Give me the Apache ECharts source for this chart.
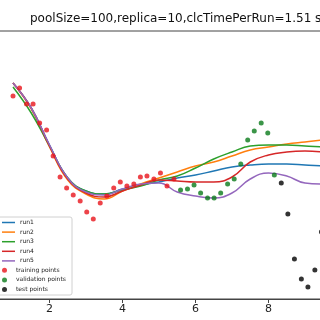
<!DOCTYPE html>
<html>
<head>
<meta charset="utf-8">
<script src="https://cdn.jsdelivr.net/npm/echarts@6/dist/echarts.min.js"></script>
<style>
  html, body { margin: 0; padding: 0; background: #fff; }
  #chart { width: 320px; height: 320px; }
</style>
</head>
<body>
<div id="chart"></div>
<script>
/* ================================
   DATA
================================ */
const titleText = "poolSize=100,replica=10,clcTimePerRun=1.51 s";

const runNames = ["run1", "run2", "run3", "run4", "run5"];
const runColors = ["#1f77b4", "#ff7f0e", "#2ca02c", "#d62728", "#9467bd"];

const curveX = [1, 1.5, 2, 2.5, 3, 3.5, 4, 4.5, 5, 5.5, 6, 6.5, 7, 7.5, 8, 8.5, 9, 9.5];
const run1 = [2.16, 1.91, 1.54, 1.21, 1.08, 1.05, 1.10, 1.14, 1.17, 1.21, 1.24, 1.28, 1.32, 1.34, 1.35, 1.35, 1.34, 1.33];
const run2 = [2.16, 1.90, 1.52, 1.19, 1.05, 1.00, 1.08, 1.15, 1.21, 1.27, 1.33, 1.37, 1.43, 1.49, 1.52, 1.55, 1.57, 1.59];
const run3 = [2.12, 1.86, 1.53, 1.21, 1.08, 1.05, 1.09, 1.13, 1.19, 1.23, 1.31, 1.40, 1.47, 1.53, 1.54, 1.54, 1.53, 1.52];
const run4 = [2.16, 1.91, 1.53, 1.20, 1.06, 1.02, 1.08, 1.14, 1.19, 1.18, 1.17, 1.17, 1.22, 1.37, 1.44, 1.47, 1.48, 1.47];
const run5 = [2.16, 1.91, 1.54, 1.21, 1.07, 1.04, 1.10, 1.15, 1.16, 1.07, 1.03, 1.01, 1.06, 1.20, 1.26, 1.23, 1.16, 1.15];

const trainX = [1.00, 1.18, 1.37, 1.55, 1.73, 1.92, 2.10, 2.29, 2.47, 2.65, 2.84, 3.02, 3.20,
                3.39, 3.57, 3.76, 3.94, 4.12, 4.31, 4.49, 4.67, 4.86, 5.04, 5.22, 5.41];
const trainY = [2.03, 2.11, 1.95, 1.95, 1.76, 1.69, 1.43, 1.22, 1.11, 1.04, 0.98, 0.87, 0.80,
                0.96, 1.03, 1.11, 1.17, 1.13, 1.15, 1.22, 1.23, 1.20, 1.26, 1.13, 1.20];

const validX = [5.59, 5.78, 5.96, 6.14, 6.33, 6.51, 6.69, 6.88, 7.06, 7.24, 7.43, 7.61, 7.80, 7.98, 8.16];
const validY = [1.09, 1.10, 1.14, 1.06, 1.01, 1.01, 1.06, 1.15, 1.20, 1.35, 1.59, 1.68, 1.76, 1.66, 1.24];

const testX = [8.35, 8.53, 8.71, 8.90, 9.08, 9.27, 9.45];
const testY = [1.16, 0.85, 0.40, 0.20, 0.12, 0.29, 0.67];

/* ================================
   HELPERS
================================ */
const FONT = "DejaVu Sans";
const zip = (xs, ys) => xs.map((x, i) => [x, ys[i]]);
const runs = [run1, run2, run3, run4, run5];

const lineSeries = runs.map((vals, i) => ({
  name: runNames[i],
  type: "line",
  data: zip(curveX, vals),
  smooth: 0.45,
  symbol: "none",
  lineStyle: { width: 1.5, color: runColors[i] },
  itemStyle: { color: runColors[i] },
  z: 2
}));

const scatter = (name, xs, ys, color) => ({
  name: name,
  type: "scatter",
  data: zip(xs, ys),
  symbolSize: 5,
  itemStyle: { color: color },
  z: 3
});

/* ================================
   CHART
================================ */
const chart = echarts.init(document.getElementById("chart"), null, { renderer: "canvas" });

chart.setOption({
  animation: false,
  textStyle: { fontFamily: FONT },
  title: {
    text: titleText,
    left: 30,
    top: 13,
    padding: 0,
    textStyle: { fontFamily: FONT, fontSize: 12, fontWeight: "normal", color: "#111" }
  },
  // the picture is cropped: x=0 and x=10 fall outside the canvas
  grid: {
    left: -23.5,
    right: -21.5,
    top: 31,
    bottom: 21,
    outerBoundsMode: "none",
    containLabel: false,
    show: true,
    borderColor: "#444",
    borderWidth: 1,
    backgroundColor: "transparent"
  },
  graphic: [{
    type: "rect",
    shape: { x: -3, y: 217, width: 75, height: 78, r: 2 },
    style: { fill: "rgba(255,255,255,0.8)", stroke: "#d0d0d0", lineWidth: 1 },
    z: 10
  }],
  legend: [
    {
      data: runNames,
      orient: "vertical",
      left: 2,
      top: 218,
      padding: 0,
      itemGap: 0.6,
      itemWidth: 13,
      itemHeight: 1.5,
      icon: "rect",
      z: 11,
      textStyle: { fontFamily: FONT, fontSize: 6, color: "#222", lineHeight: 9 }
    },
    {
      data: ["training points", "validation points", "test points"],
      orient: "vertical",
      left: 2,
      top: 265.8,
      padding: 0,
      itemGap: 0.6,
      itemWidth: 13,
      itemHeight: 5,
      icon: "circle",
      z: 11,
      textStyle: { fontFamily: FONT, fontSize: 6, color: "#222", lineHeight: 9 }
    }
  ],
  xAxis: {
    type: "value",
    min: 0,
    max: 10,
    interval: 2,
    axisLine: { show: true, lineStyle: { color: "#444", width: 1.2 } },
    axisTick: { show: true, length: 4, lineStyle: { color: "#444" } },
    axisLabel: { fontFamily: FONT, fontSize: 11, color: "#222", margin: 5 },
    splitLine: { show: false }
  },
  yAxis: {
    type: "value",
    min: 0,
    max: 2.68,
    show: false,
    splitLine: { show: false }
  },
  series: [
    ...lineSeries,
    scatter("training points", trainX, trainY, "#e8141c"),
    scatter("validation points", validX, validY, "#0a7a1a"),
    scatter("test points", testX, testY, "#000000")
  ]
});
</script>
</body>
</html>
